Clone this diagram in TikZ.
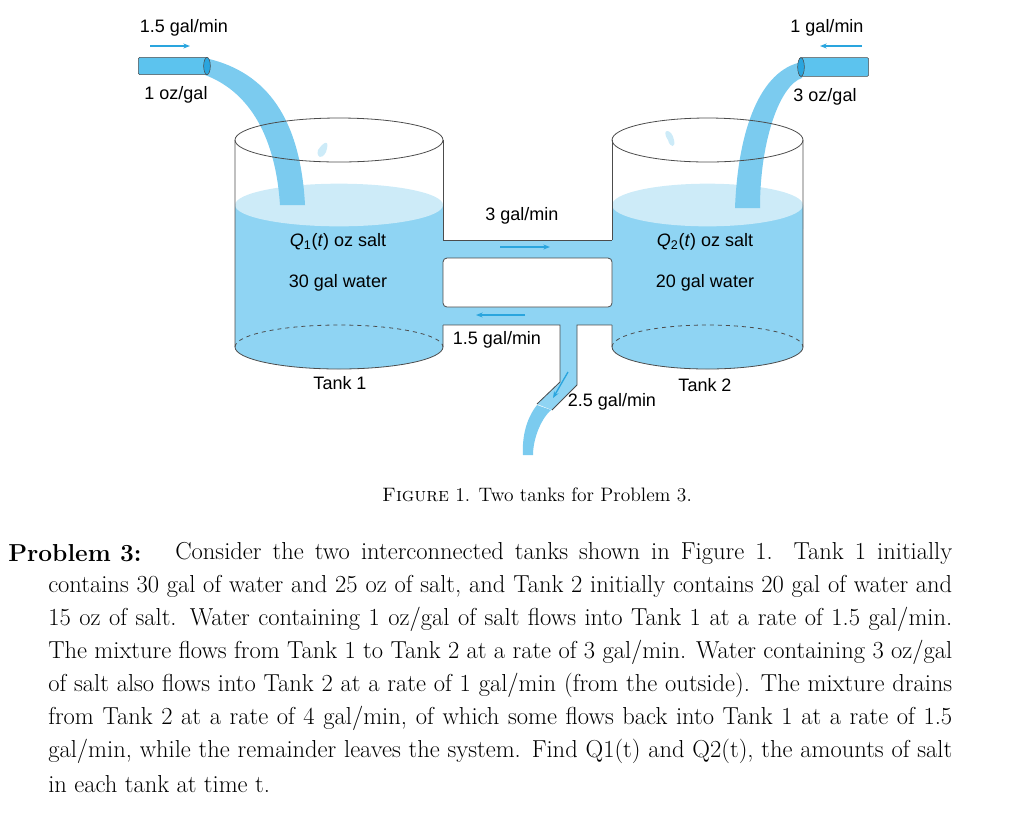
\documentclass[tikz,border=0pt]{standalone}
\usepackage{fontspec}
\newfontfamily\dsans{Liberation Sans}
\usetikzlibrary{arrows.meta}
\definecolor{water}{HTML}{8FD4F3}
\definecolor{wlight}{HTML}{CDEBF8}
\definecolor{arr}{HTML}{2AA5DE}
\definecolor{pipe}{HTML}{5CC3EE}
\begin{document}
\begin{tikzpicture}[x=0.75pt,y=-0.75pt,
  lbl/.style={font=\dsans\fontsize{13.5}{15}\selectfont,inner sep=1pt},
  outl/.style={draw=black!70,line width=0.6pt},
  flow/.style={arr,line width=1pt,-{Stealth[length=5pt]}},
  ln/.style={anchor=west,inner sep=0pt,font=\fontsize{18.4}{20}\selectfont}]
\useasboundingbox (0,0) rectangle (1024,819);
% tank 1
\fill[water] (235,205) -- (235,347) arc[start angle=180,end angle=360,x radius=78pt,y radius=16.5pt] -- (443,205) -- cycle;
\fill[wlight] (339,205) ellipse[x radius=78pt,y radius=16pt];
% tank 2
\fill[water] (612,205) -- (612,347) arc[start angle=180,end angle=360,x radius=71.6pt,y radius=16.5pt] -- (803,205) -- cycle;
\fill[wlight] (707.5,205) ellipse[x radius=71.6pt,y radius=16pt];
% streams
\fill[water!80!arr] (205,58) .. controls (260,70) and (300,110) .. (305,205) -- (280,205) .. controls (275,130) and (245,90) .. (205,75) -- cycle;
\fill[water!80!arr] (802,62) .. controls (760,70) and (738,130) .. (735,208) -- (760,208) .. controls (760,140) and (780,85) .. (802,78) -- cycle;
% splashes
\fill[wlight] (318,150) .. controls (325,140) and (330,140) .. (326,152) .. controls (322,160) and (316,158) .. (318,150);
\fill[wlight] (668,140) .. controls (660,128) and (672,128) .. (674,140) .. controls (676,148) and (670,148) .. (668,140);
% connectors
\fill[water] (443,240) rectangle (612,325);
\fill[water] (560,325) -- (577,325) -- (577,385) -- (552,410) -- (537,404) -- (560,382) -- cycle;
\fill[water!80!arr] (537,405) .. controls (525,420) and (522,440) .. (523,455) -- (533,455) .. controls (533,440) and (540,420) .. (551,410) -- cycle;
\node[fill=white,outl,rounded corners=3pt,minimum width=126.75pt,minimum height=36.75pt,inner sep=0pt] (mid) at (527.5,282.5) {};
\draw[outl] (443,240) -- (612,240);
\draw[outl] (443,325) -- (560,325) -- (560,382) -- (537,404);
\draw[outl] (612,325) -- (577,325) -- (577,385) -- (552,410);
% tank outlines
\draw[outl] (339,140) ellipse[x radius=78pt,y radius=16.5pt];
\draw[outl] (235,140) -- (235,347) arc[start angle=180,end angle=360,x radius=78pt,y radius=16.5pt] -- (443,325);
\draw[outl] (443,140) -- (443,240);
\draw[outl,dashed] (235,347) arc[start angle=180,end angle=0,x radius=78pt,y radius=16.5pt];
\draw[outl] (707.5,140) ellipse[x radius=71.6pt,y radius=16.5pt];
\draw[outl] (803,140) -- (803,347) arc[start angle=360,end angle=180,x radius=71.6pt,y radius=16.5pt] -- (612,325);
\draw[outl] (612,140) -- (612,240);
\draw[outl,dashed] (612,347) arc[start angle=180,end angle=0,x radius=71.6pt,y radius=16.5pt];
% inlet pipes
\node[draw=black!70,fill=pipe,minimum width=52pt,minimum height=13pt,inner sep=0pt,rounded corners=1pt] (p1) at (173,66) {};
\draw[black!70,fill=arr] (207,66) ellipse[x radius=2.5pt,y radius=6.5pt];
\node[draw=black!70,fill=pipe,minimum width=52pt,minimum height=14pt,inner sep=0pt,rounded corners=1pt] (p2) at (834,67) {};
\draw[black!70,fill=arr] (801,67) ellipse[x radius=2.5pt,y radius=7pt];
% labels
\node[lbl] (t1) at (184,28) {1.5 gal/min};
\node[lbl] (t2) at (176,95) {1 oz/gal};
\node[lbl] (t3) at (827,28) {1 gal/min};
\node[lbl] (t4) at (825,97) {3 oz/gal};
\coordinate (a1s) at (150,46); \coordinate (a1e) at (190,46);
\draw[flow] (a1s) -- (a1e);
\coordinate (a2s) at (862,46); \coordinate (a2e) at (820,46);
\draw[flow] (a2s) -- (a2e);
\node[lbl] (t5) at (522,216) {3 gal/min};
\coordinate (a3s) at (500,247); \coordinate (a3e) at (550,247);
\draw[flow] (a3s) -- (a3e);
\coordinate (a4s) at (525,315); \coordinate (a4e) at (476,315);
\draw[flow] (a4s) -- (a4e);
\node[lbl] (t6) at (497,340) {1.5 gal/min};
\coordinate (a5s) at (568,372); \coordinate (a5e) at (553,398);
\draw[flow] (a5s) -- (a5e);
\node[lbl] (t7) at (612,402) {2.5 gal/min};
\node[lbl] (q1) at (338,242) {\textit{Q}\textsubscript{1}(\textit{t}) oz salt};
\node[lbl] (w1) at (338,283) {30 gal water};
\node[lbl] (q2) at (705,242) {\textit{Q}\textsubscript{2}(\textit{t}) oz salt};
\node[lbl] (w2) at (705,283) {20 gal water};
\node[lbl] (k1) at (340,383) {Tank 1};
\node[lbl] (k2) at (705,385) {Tank 2};
% caption and text
\node[inner sep=0pt,font=\fontsize{14.6}{16}\selectfont] (cap) at (537,495) {\textsc{Figure} 1. Two tanks for Problem 3.};
\node[ln] (h) at (8,553) {\textbf{Problem 3:}};
\node[ln] (l1) at (175,553) {\makebox[582.75pt][s]{Consider the two interconnected tanks shown in Figure 1. Tank 1 initially}};
\node[ln] (l2) at (48,586) {\makebox[678pt][s]{contains 30 gal of water and 25 oz of salt, and Tank 2 initially contains 20 gal of water and}};
\node[ln] (l3) at (48,619) {\makebox[678pt][s]{15 oz of salt. Water containing 1 oz/gal of salt flows into Tank 1 at a rate of 1.5 gal/min.}};
\node[ln] (l4) at (48,652) {\makebox[678pt][s]{The mixture flows from Tank 1 to Tank 2 at a rate of 3 gal/min. Water containing 3 oz/gal}};
\node[ln] (l5) at (48,685) {\makebox[678pt][s]{of salt also flows into Tank 2 at a rate of 1 gal/min (from the outside). The mixture drains}};
\node[ln] (l6) at (48,718) {\makebox[678pt][s]{from Tank 2 at a rate of 4 gal/min, of which some flows back into Tank 1 at a rate of 1.5}};
\node[ln] (l7) at (48,751) {\makebox[678pt][s]{gal/min, while the remainder leaves the system. Find Q1(t) and Q2(t), the amounts of salt}};
\node[ln] (l8) at (48,784) {in each tank at time t.};
\end{tikzpicture}
\end{document}
